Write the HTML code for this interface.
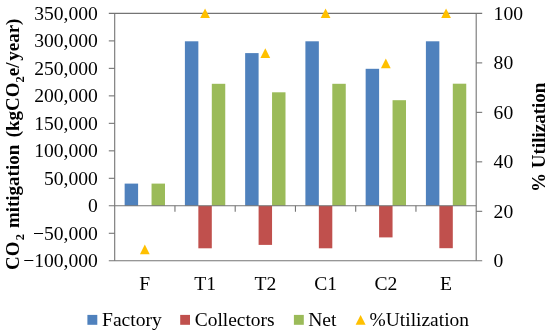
<!DOCTYPE html>
<html><head><meta charset="utf-8"><title>chart</title>
<style>
html,body{margin:0;padding:0;background:#fff;}
svg{display:block;}
text{font-family:"Liberation Serif",serif;font-size:19.6px;fill:#000;}
.b{font-weight:bold;}
</style></head><body>
<svg width="550" height="334" viewBox="0 0 550 334">
<rect width="550" height="334" fill="#fff"/>

<rect x="124.65" y="183.60" width="13.45" height="22.20" fill="#4f81bd"/>
<rect x="151.55" y="183.60" width="13.45" height="22.20" fill="#9bbb59"/>
<rect x="184.90" y="41.30" width="13.45" height="164.50" fill="#4f81bd"/>
<rect x="198.35" y="205.80" width="13.45" height="42.50" fill="#c0504d"/>
<rect x="211.80" y="83.80" width="13.45" height="122.00" fill="#9bbb59"/>
<rect x="245.15" y="53.10" width="13.45" height="152.70" fill="#4f81bd"/>
<rect x="258.60" y="205.80" width="13.45" height="39.10" fill="#c0504d"/>
<rect x="272.05" y="92.30" width="13.45" height="113.50" fill="#9bbb59"/>
<rect x="305.40" y="41.30" width="13.45" height="164.50" fill="#4f81bd"/>
<rect x="318.85" y="205.80" width="13.45" height="42.50" fill="#c0504d"/>
<rect x="332.30" y="83.80" width="13.45" height="122.00" fill="#9bbb59"/>
<rect x="365.65" y="68.80" width="13.45" height="137.00" fill="#4f81bd"/>
<rect x="379.10" y="205.80" width="13.45" height="31.60" fill="#c0504d"/>
<rect x="392.55" y="100.20" width="13.45" height="105.60" fill="#9bbb59"/>
<rect x="425.90" y="41.30" width="13.45" height="164.50" fill="#4f81bd"/>
<rect x="439.35" y="205.80" width="13.45" height="42.40" fill="#c0504d"/>
<rect x="452.80" y="83.70" width="13.45" height="122.10" fill="#9bbb59"/>
<g stroke="#747474" stroke-width="1.1" fill="none">
<line x1="108.8" y1="13.4" x2="482.2" y2="13.4"/>
<line x1="108.8" y1="260.8" x2="482.2" y2="260.8"/>
<line x1="114.7" y1="13.4" x2="114.7" y2="260.8"/>
<line x1="476.2" y1="13.4" x2="476.2" y2="260.8"/>
<line x1="108.8" y1="205.8" x2="476.2" y2="205.8"/>
<line x1="108.8" y1="40.89" x2="114.7" y2="40.89"/>
<line x1="108.8" y1="68.37" x2="114.7" y2="68.37"/>
<line x1="108.8" y1="95.86" x2="114.7" y2="95.86"/>
<line x1="108.8" y1="123.34" x2="114.7" y2="123.34"/>
<line x1="108.8" y1="150.83" x2="114.7" y2="150.83"/>
<line x1="108.8" y1="178.31" x2="114.7" y2="178.31"/>
<line x1="108.8" y1="233.29" x2="114.7" y2="233.29"/>
<line x1="476.2" y1="62.88" x2="482.2" y2="62.88"/>
<line x1="476.2" y1="112.36" x2="482.2" y2="112.36"/>
<line x1="476.2" y1="161.84" x2="482.2" y2="161.84"/>
<line x1="476.2" y1="211.32" x2="482.2" y2="211.32"/>
<line x1="174.95" y1="205.8" x2="174.95" y2="211.8"/>
<line x1="235.20" y1="205.8" x2="235.20" y2="211.8"/>
<line x1="295.45" y1="205.8" x2="295.45" y2="211.8"/>
<line x1="355.70" y1="205.8" x2="355.70" y2="211.8"/>
<line x1="415.95" y1="205.8" x2="415.95" y2="211.8"/>
</g>
<polygon points="144.82,244.50 149.67,254.20 139.97,254.20" fill="#ffc000"/>
<polygon points="205.07,8.40 209.92,18.10 200.22,18.10" fill="#ffc000"/>
<polygon points="265.32,48.20 270.18,57.90 260.47,57.90" fill="#ffc000"/>
<polygon points="325.57,8.40 330.43,18.10 320.72,18.10" fill="#ffc000"/>
<polygon points="385.82,58.60 390.68,68.30 380.97,68.30" fill="#ffc000"/>
<polygon points="446.07,8.40 450.93,18.10 441.22,18.10" fill="#ffc000"/>
<text x="97.9" y="19.80" text-anchor="end">350,000</text>
<text x="97.9" y="47.29" text-anchor="end">300,000</text>
<text x="97.9" y="74.77" text-anchor="end">250,000</text>
<text x="97.9" y="102.26" text-anchor="end">200,000</text>
<text x="97.9" y="129.74" text-anchor="end">150,000</text>
<text x="97.9" y="157.23" text-anchor="end">100,000</text>
<text x="97.9" y="184.71" text-anchor="end">50,000</text>
<text x="97.9" y="212.20" text-anchor="end">0</text>
<text x="97.9" y="239.69" text-anchor="end">−50,000</text>
<text x="97.9" y="267.17" text-anchor="end">−100,000</text>
<text x="493.6" y="19.80">100</text>
<text x="493.6" y="69.28">80</text>
<text x="493.6" y="118.76">60</text>
<text x="493.6" y="168.24">40</text>
<text x="493.6" y="217.72">20</text>
<text x="493.6" y="267.20">0</text>
<text x="144.82" y="289.8" text-anchor="middle">F</text>
<text x="205.07" y="289.8" text-anchor="middle">T1</text>
<text x="265.32" y="289.8" text-anchor="middle">T2</text>
<text x="325.57" y="289.8" text-anchor="middle">C1</text>
<text x="385.82" y="289.8" text-anchor="middle">C2</text>
<text x="446.07" y="289.8" text-anchor="middle">E</text>
<text class="b" style="font-size:19px" transform="translate(19.1,270.0) rotate(-90)" x="0" y="0">CO<tspan font-size="12.5px" dy="4.5" dx="1.2">2</tspan><tspan dy="-4.5" dx="1.2"> mitigation</tspan><tspan dx="2.6"> (kgCO</tspan><tspan font-size="12.5px" dy="4.5">2</tspan><tspan dy="-4.5">e/</tspan><tspan dx="1.7">year)</tspan></text>
<text class="b" style="font-size:19px" transform="translate(545.2,191.9) rotate(-90)" x="0" y="0">% Utilization</text>
<rect x="87.4" y="314.9" width="9.9" height="9.9" fill="#4f81bd"/>
<text x="102.0" y="325.8">Factory</text>
<rect x="180.2" y="314.9" width="9.8" height="9.9" fill="#c0504d"/>
<text x="194.8" y="325.8" textLength="79.8" lengthAdjust="spacingAndGlyphs">Collectors</text>
<rect x="293.9" y="314.9" width="9.9" height="9.9" fill="#9bbb59"/>
<text x="308.2" y="325.8">Net</text>
<polygon points="360.6,315.0 365.6,324.7 355.6,324.7" fill="#ffc000"/>
<text x="369.6" y="325.8" textLength="99.4" lengthAdjust="spacingAndGlyphs">%Utilization</text>
</svg></body></html>
